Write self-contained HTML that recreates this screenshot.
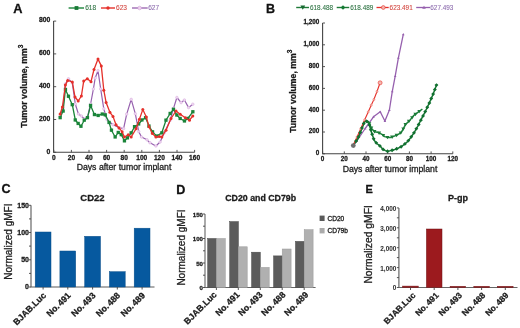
<!DOCTYPE html>
<html><head><meta charset="utf-8"><style>
html,body{margin:0;padding:0;background:#fff;}
svg{display:block;font-family:"Liberation Sans", sans-serif;filter:blur(0.35px);}
</style></head><body>
<svg width="520" height="328" viewBox="0 0 520 328">
<rect width="520" height="328" fill="#fff"/>
<text x="13.3" y="12.5" font-size="12.8" font-weight="bold" text-anchor="start" fill="#111" stroke="#111" stroke-width="0.28">A</text>
<text x="266.0" y="12.5" font-size="12.5" font-weight="bold" text-anchor="start" fill="#111" stroke="#111" stroke-width="0.28">B</text>
<text x="1.4" y="192.9" font-size="12.6" font-weight="bold" text-anchor="start" fill="#111" stroke="#111" stroke-width="0.28">C</text>
<text x="176.2" y="194.0" font-size="12.6" font-weight="bold" text-anchor="start" fill="#111" stroke="#111" stroke-width="0.28">D</text>
<text x="365.6" y="193.0" font-size="11" font-weight="bold" text-anchor="start" fill="#111" stroke="#111" stroke-width="0.28">E</text>
<path d="M53.6,21.1V152.3H194.6" fill="none" stroke="#444" stroke-width="1.1"/>
<path d="M53.6,152.3h2.6" stroke="#444" stroke-width="0.9"/>
<text x="50.4" y="153.6" font-size="6.8" font-weight="bold" text-anchor="end" fill="#1a1a1a" stroke="#1a1a1a" stroke-width="0.28">0</text>
<path d="M53.6,119.5h2.6" stroke="#444" stroke-width="0.9"/>
<text x="50.4" y="120.8" font-size="6.8" font-weight="bold" text-anchor="end" fill="#1a1a1a" stroke="#1a1a1a" stroke-width="0.28">200</text>
<path d="M53.6,86.7h2.6" stroke="#444" stroke-width="0.9"/>
<text x="50.4" y="88.0" font-size="6.8" font-weight="bold" text-anchor="end" fill="#1a1a1a" stroke="#1a1a1a" stroke-width="0.28">400</text>
<path d="M53.6,53.9h2.6" stroke="#444" stroke-width="0.9"/>
<text x="50.4" y="55.2" font-size="6.8" font-weight="bold" text-anchor="end" fill="#1a1a1a" stroke="#1a1a1a" stroke-width="0.28">600</text>
<path d="M53.6,21.1h2.6" stroke="#444" stroke-width="0.9"/>
<text x="50.4" y="22.4" font-size="6.8" font-weight="bold" text-anchor="end" fill="#1a1a1a" stroke="#1a1a1a" stroke-width="0.28">800</text>
<path d="M53.8,152.3v-2.4" stroke="#444" stroke-width="0.9"/>
<text x="53.8" y="159.8" font-size="6.6" font-weight="bold" text-anchor="middle" fill="#1a1a1a" stroke="#1a1a1a" stroke-width="0.28">0</text>
<path d="M71.4,152.3v-2.4" stroke="#444" stroke-width="0.9"/>
<text x="71.4" y="159.8" font-size="6.6" font-weight="bold" text-anchor="middle" fill="#1a1a1a" stroke="#1a1a1a" stroke-width="0.28">20</text>
<path d="M89.0,152.3v-2.4" stroke="#444" stroke-width="0.9"/>
<text x="89.0" y="159.8" font-size="6.6" font-weight="bold" text-anchor="middle" fill="#1a1a1a" stroke="#1a1a1a" stroke-width="0.28">40</text>
<path d="M106.6,152.3v-2.4" stroke="#444" stroke-width="0.9"/>
<text x="106.6" y="159.8" font-size="6.6" font-weight="bold" text-anchor="middle" fill="#1a1a1a" stroke="#1a1a1a" stroke-width="0.28">60</text>
<path d="M124.2,152.3v-2.4" stroke="#444" stroke-width="0.9"/>
<text x="124.2" y="159.8" font-size="6.6" font-weight="bold" text-anchor="middle" fill="#1a1a1a" stroke="#1a1a1a" stroke-width="0.28">80</text>
<path d="M141.8,152.3v-2.4" stroke="#444" stroke-width="0.9"/>
<text x="141.8" y="159.8" font-size="6.6" font-weight="bold" text-anchor="middle" fill="#1a1a1a" stroke="#1a1a1a" stroke-width="0.28">100</text>
<path d="M159.4,152.3v-2.4" stroke="#444" stroke-width="0.9"/>
<text x="159.4" y="159.8" font-size="6.6" font-weight="bold" text-anchor="middle" fill="#1a1a1a" stroke="#1a1a1a" stroke-width="0.28">120</text>
<path d="M177.0,152.3v-2.4" stroke="#444" stroke-width="0.9"/>
<text x="177.0" y="159.8" font-size="6.6" font-weight="bold" text-anchor="middle" fill="#1a1a1a" stroke="#1a1a1a" stroke-width="0.28">140</text>
<path d="M194.6,152.3v-2.4" stroke="#444" stroke-width="0.9"/>
<text x="194.6" y="159.8" font-size="6.6" font-weight="bold" text-anchor="middle" fill="#1a1a1a" stroke="#1a1a1a" stroke-width="0.28">160</text>
<text x="124.0" y="170.2" font-size="8.7" font-weight="normal" text-anchor="middle" fill="#222" stroke="#222" stroke-width="0.3">Days after tumor implant</text>
<text transform="translate(26.5,127.7) rotate(-90)" font-size="8.7" font-weight="bold" fill="#1a1a1a" stroke="#1a1a1a" stroke-width="0.28">Tumor volume, mm<tspan font-size="6.6" dy="-3.5">3</tspan></text>
<polyline points="60.1,116.0 63.0,108.0 65.4,84.0 68.5,78.8 72.3,83.0 75.3,104.0 78.4,114.0 81.4,116.0 84.5,119.0 87.5,117.0 90.6,104.0 93.4,89.0 95.2,78.0 98.0,70.7 100.7,89.0 103.8,108.8 106.9,119.5 113.0,124.8 119.8,127.9 123.6,128.6 126.7,114.1 131.2,99.4 135.3,113.7 138.7,131.5 141.5,137.0 147.0,139.8 150.0,142.8 155.9,146.0 160.1,142.0 164.3,132.8 170.2,120.2 173.5,108.4 176.9,97.5 181.1,102.6 184.4,100.0 188.6,107.6 192.8,104.2" fill="none" stroke="#9660ae" stroke-width="1.2" stroke-linejoin="round"/>
<circle cx="60.1" cy="116.0" r="1.3" fill="#efd8f0" stroke="#d4a8dc" stroke-width="0.5"/>
<circle cx="63.0" cy="108.0" r="1.3" fill="#efd8f0" stroke="#d4a8dc" stroke-width="0.5"/>
<circle cx="65.4" cy="84.0" r="1.3" fill="#efd8f0" stroke="#d4a8dc" stroke-width="0.5"/>
<circle cx="68.5" cy="78.8" r="1.3" fill="#efd8f0" stroke="#d4a8dc" stroke-width="0.5"/>
<circle cx="72.3" cy="83.0" r="1.3" fill="#efd8f0" stroke="#d4a8dc" stroke-width="0.5"/>
<circle cx="75.3" cy="104.0" r="1.3" fill="#efd8f0" stroke="#d4a8dc" stroke-width="0.5"/>
<circle cx="78.4" cy="114.0" r="1.3" fill="#efd8f0" stroke="#d4a8dc" stroke-width="0.5"/>
<circle cx="81.4" cy="116.0" r="1.3" fill="#efd8f0" stroke="#d4a8dc" stroke-width="0.5"/>
<circle cx="84.5" cy="119.0" r="1.3" fill="#efd8f0" stroke="#d4a8dc" stroke-width="0.5"/>
<circle cx="87.5" cy="117.0" r="1.3" fill="#efd8f0" stroke="#d4a8dc" stroke-width="0.5"/>
<circle cx="90.6" cy="104.0" r="1.3" fill="#efd8f0" stroke="#d4a8dc" stroke-width="0.5"/>
<circle cx="93.4" cy="89.0" r="1.3" fill="#efd8f0" stroke="#d4a8dc" stroke-width="0.5"/>
<circle cx="95.2" cy="78.0" r="1.3" fill="#efd8f0" stroke="#d4a8dc" stroke-width="0.5"/>
<circle cx="98.0" cy="70.7" r="1.3" fill="#efd8f0" stroke="#d4a8dc" stroke-width="0.5"/>
<circle cx="100.7" cy="89.0" r="1.3" fill="#efd8f0" stroke="#d4a8dc" stroke-width="0.5"/>
<circle cx="103.8" cy="108.8" r="1.3" fill="#efd8f0" stroke="#d4a8dc" stroke-width="0.5"/>
<circle cx="106.9" cy="119.5" r="1.3" fill="#efd8f0" stroke="#d4a8dc" stroke-width="0.5"/>
<circle cx="113.0" cy="124.8" r="1.3" fill="#efd8f0" stroke="#d4a8dc" stroke-width="0.5"/>
<circle cx="119.8" cy="127.9" r="1.3" fill="#efd8f0" stroke="#d4a8dc" stroke-width="0.5"/>
<circle cx="123.6" cy="128.6" r="1.3" fill="#efd8f0" stroke="#d4a8dc" stroke-width="0.5"/>
<circle cx="126.7" cy="114.1" r="1.3" fill="#efd8f0" stroke="#d4a8dc" stroke-width="0.5"/>
<circle cx="131.2" cy="99.4" r="1.3" fill="#efd8f0" stroke="#d4a8dc" stroke-width="0.5"/>
<circle cx="135.3" cy="113.7" r="1.3" fill="#efd8f0" stroke="#d4a8dc" stroke-width="0.5"/>
<circle cx="138.7" cy="131.5" r="1.3" fill="#efd8f0" stroke="#d4a8dc" stroke-width="0.5"/>
<circle cx="141.5" cy="137.0" r="1.3" fill="#efd8f0" stroke="#d4a8dc" stroke-width="0.5"/>
<circle cx="147.0" cy="139.8" r="1.3" fill="#efd8f0" stroke="#d4a8dc" stroke-width="0.5"/>
<circle cx="150.0" cy="142.8" r="1.3" fill="#efd8f0" stroke="#d4a8dc" stroke-width="0.5"/>
<circle cx="155.9" cy="146.0" r="1.3" fill="#efd8f0" stroke="#d4a8dc" stroke-width="0.5"/>
<circle cx="160.1" cy="142.0" r="1.3" fill="#efd8f0" stroke="#d4a8dc" stroke-width="0.5"/>
<circle cx="164.3" cy="132.8" r="1.3" fill="#efd8f0" stroke="#d4a8dc" stroke-width="0.5"/>
<circle cx="170.2" cy="120.2" r="1.3" fill="#efd8f0" stroke="#d4a8dc" stroke-width="0.5"/>
<circle cx="173.5" cy="108.4" r="1.3" fill="#efd8f0" stroke="#d4a8dc" stroke-width="0.5"/>
<circle cx="176.9" cy="97.5" r="1.3" fill="#efd8f0" stroke="#d4a8dc" stroke-width="0.5"/>
<circle cx="181.1" cy="102.6" r="1.3" fill="#efd8f0" stroke="#d4a8dc" stroke-width="0.5"/>
<circle cx="184.4" cy="100.0" r="1.3" fill="#efd8f0" stroke="#d4a8dc" stroke-width="0.5"/>
<circle cx="188.6" cy="107.6" r="1.3" fill="#efd8f0" stroke="#d4a8dc" stroke-width="0.5"/>
<circle cx="192.8" cy="104.2" r="1.3" fill="#efd8f0" stroke="#d4a8dc" stroke-width="0.5"/>
<polyline points="60.1,117.7 63.1,111.1 65.4,89.5 68.5,96.3 72.3,104.7 75.3,120.0 78.2,123.5 81.0,126.3 84.3,120.2 87.5,117.7 90.6,105.5 94.4,114.6 98.2,115.4 102.3,114.1 105.3,114.9 109.1,122.5 111.4,130.2 115.2,137.0 118.3,132.4 121.3,134.7 124.4,140.8 127.4,137.8 131.2,132.9 134.6,126.7 138.7,124.0 142.0,120.0 145.6,117.8 149.0,126.1 152.6,131.9 156.7,136.1 161.8,132.8 166.0,120.2 170.2,113.5 173.5,109.3 176.9,115.1 180.2,118.5 184.4,121.0 187.8,118.5 192.8,111.8" fill="none" stroke="#1a8439" stroke-width="1.3" stroke-linejoin="round"/>
<rect x="58.5" y="116.0" width="3.3" height="3.3" fill="#1a8439"/>
<rect x="61.5" y="109.4" width="3.3" height="3.3" fill="#1a8439"/>
<rect x="63.8" y="87.8" width="3.3" height="3.3" fill="#1a8439"/>
<rect x="66.8" y="94.6" width="3.3" height="3.3" fill="#1a8439"/>
<rect x="70.6" y="103.0" width="3.3" height="3.3" fill="#1a8439"/>
<rect x="73.6" y="118.3" width="3.3" height="3.3" fill="#1a8439"/>
<rect x="76.5" y="121.8" width="3.3" height="3.3" fill="#1a8439"/>
<rect x="79.3" y="124.6" width="3.3" height="3.3" fill="#1a8439"/>
<rect x="82.6" y="118.5" width="3.3" height="3.3" fill="#1a8439"/>
<rect x="85.8" y="116.0" width="3.3" height="3.3" fill="#1a8439"/>
<rect x="88.9" y="103.8" width="3.3" height="3.3" fill="#1a8439"/>
<rect x="92.8" y="112.9" width="3.3" height="3.3" fill="#1a8439"/>
<rect x="96.5" y="113.8" width="3.3" height="3.3" fill="#1a8439"/>
<rect x="100.6" y="112.4" width="3.3" height="3.3" fill="#1a8439"/>
<rect x="103.6" y="113.2" width="3.3" height="3.3" fill="#1a8439"/>
<rect x="107.4" y="120.8" width="3.3" height="3.3" fill="#1a8439"/>
<rect x="109.8" y="128.5" width="3.3" height="3.3" fill="#1a8439"/>
<rect x="113.5" y="135.3" width="3.3" height="3.3" fill="#1a8439"/>
<rect x="116.6" y="130.8" width="3.3" height="3.3" fill="#1a8439"/>
<rect x="119.6" y="133.0" width="3.3" height="3.3" fill="#1a8439"/>
<rect x="122.8" y="139.2" width="3.3" height="3.3" fill="#1a8439"/>
<rect x="125.8" y="136.2" width="3.3" height="3.3" fill="#1a8439"/>
<rect x="129.5" y="131.2" width="3.3" height="3.3" fill="#1a8439"/>
<rect x="132.9" y="125.0" width="3.3" height="3.3" fill="#1a8439"/>
<rect x="137.0" y="122.3" width="3.3" height="3.3" fill="#1a8439"/>
<rect x="140.3" y="118.3" width="3.3" height="3.3" fill="#1a8439"/>
<rect x="143.9" y="116.1" width="3.3" height="3.3" fill="#1a8439"/>
<rect x="147.3" y="124.4" width="3.3" height="3.3" fill="#1a8439"/>
<rect x="150.9" y="130.2" width="3.3" height="3.3" fill="#1a8439"/>
<rect x="155.0" y="134.4" width="3.3" height="3.3" fill="#1a8439"/>
<rect x="160.2" y="131.2" width="3.3" height="3.3" fill="#1a8439"/>
<rect x="164.3" y="118.5" width="3.3" height="3.3" fill="#1a8439"/>
<rect x="168.5" y="111.8" width="3.3" height="3.3" fill="#1a8439"/>
<rect x="171.8" y="107.6" width="3.3" height="3.3" fill="#1a8439"/>
<rect x="175.2" y="113.4" width="3.3" height="3.3" fill="#1a8439"/>
<rect x="178.5" y="116.8" width="3.3" height="3.3" fill="#1a8439"/>
<rect x="182.8" y="119.3" width="3.3" height="3.3" fill="#1a8439"/>
<rect x="186.2" y="116.8" width="3.3" height="3.3" fill="#1a8439"/>
<rect x="191.2" y="110.1" width="3.3" height="3.3" fill="#1a8439"/>
<polyline points="60.1,113.9 62.4,107.0 65.4,85.1 67.7,80.5 72.3,81.9 75.0,97.0 78.2,101.0 81.4,96.0 83.7,81.1 87.3,78.7 91.0,81.7 94.0,69.5 98.0,59.1 101.3,65.9 103.8,90.2 106.1,102.4 109.9,112.3 113.0,116.4 116.0,124.8 119.0,127.9 122.1,131.7 124.4,137.0 128.2,134.7 131.2,137.0 136.0,128.8 139.4,119.2 142.8,109.6 146.3,117.1 149.0,126.7 152.4,133.6 155.9,137.0 159.3,136.4 161.8,137.0 166.0,130.2 171.0,118.5 176.0,111.0 180.2,114.3 185.3,117.7 189.5,120.2 192.8,116.0" fill="none" stroke="#e5302a" stroke-width="1.3" stroke-linejoin="round"/>
<circle cx="60.1" cy="113.9" r="1.5" fill="#e5302a"/>
<circle cx="62.4" cy="107.0" r="1.5" fill="#e5302a"/>
<circle cx="65.4" cy="85.1" r="1.5" fill="#e5302a"/>
<circle cx="67.7" cy="80.5" r="1.5" fill="#e5302a"/>
<circle cx="72.3" cy="81.9" r="1.5" fill="#e5302a"/>
<circle cx="75.0" cy="97.0" r="1.5" fill="#e5302a"/>
<circle cx="78.2" cy="101.0" r="1.5" fill="#e5302a"/>
<circle cx="81.4" cy="96.0" r="1.5" fill="#e5302a"/>
<circle cx="83.7" cy="81.1" r="1.5" fill="#e5302a"/>
<circle cx="87.3" cy="78.7" r="1.5" fill="#e5302a"/>
<circle cx="91.0" cy="81.7" r="1.5" fill="#e5302a"/>
<circle cx="94.0" cy="69.5" r="1.5" fill="#e5302a"/>
<circle cx="98.0" cy="59.1" r="1.5" fill="#e5302a"/>
<circle cx="101.3" cy="65.9" r="1.5" fill="#e5302a"/>
<circle cx="103.8" cy="90.2" r="1.5" fill="#e5302a"/>
<circle cx="106.1" cy="102.4" r="1.5" fill="#e5302a"/>
<circle cx="109.9" cy="112.3" r="1.5" fill="#e5302a"/>
<circle cx="113.0" cy="116.4" r="1.5" fill="#e5302a"/>
<circle cx="116.0" cy="124.8" r="1.5" fill="#e5302a"/>
<circle cx="119.0" cy="127.9" r="1.5" fill="#e5302a"/>
<circle cx="122.1" cy="131.7" r="1.5" fill="#e5302a"/>
<circle cx="124.4" cy="137.0" r="1.5" fill="#e5302a"/>
<circle cx="128.2" cy="134.7" r="1.5" fill="#e5302a"/>
<circle cx="131.2" cy="137.0" r="1.5" fill="#e5302a"/>
<circle cx="136.0" cy="128.8" r="1.5" fill="#e5302a"/>
<circle cx="139.4" cy="119.2" r="1.5" fill="#e5302a"/>
<circle cx="142.8" cy="109.6" r="1.5" fill="#e5302a"/>
<circle cx="146.3" cy="117.1" r="1.5" fill="#e5302a"/>
<circle cx="149.0" cy="126.7" r="1.5" fill="#e5302a"/>
<circle cx="152.4" cy="133.6" r="1.5" fill="#e5302a"/>
<circle cx="155.9" cy="137.0" r="1.5" fill="#e5302a"/>
<circle cx="159.3" cy="136.4" r="1.5" fill="#e5302a"/>
<circle cx="161.8" cy="137.0" r="1.5" fill="#e5302a"/>
<circle cx="166.0" cy="130.2" r="1.5" fill="#e5302a"/>
<circle cx="171.0" cy="118.5" r="1.5" fill="#e5302a"/>
<circle cx="176.0" cy="111.0" r="1.5" fill="#e5302a"/>
<circle cx="180.2" cy="114.3" r="1.5" fill="#e5302a"/>
<circle cx="185.3" cy="117.7" r="1.5" fill="#e5302a"/>
<circle cx="189.5" cy="120.2" r="1.5" fill="#e5302a"/>
<circle cx="192.8" cy="116.0" r="1.5" fill="#e5302a"/>
<path d="M68.6,8H84" stroke="#1a8439" stroke-width="1.4"/>
<rect x="74.6" y="6.1" width="3.8" height="3.8" fill="#187a36"/>
<text x="85.2" y="10.2" font-size="6.6" font-weight="normal" text-anchor="start" fill="#2f7444" stroke="#2f7444" stroke-width="0.1">618</text>
<path d="M101,8H115" stroke="#e5302a" stroke-width="1.4"/>
<circle cx="108.0" cy="8.0" r="1.7" fill="#e5302a"/>
<text x="116.0" y="10.2" font-size="6.6" font-weight="normal" text-anchor="start" fill="#d44a44" stroke="#d44a44" stroke-width="0.1">623</text>
<path d="M132,8H147.7" stroke="#9660ae" stroke-width="1.3"/>
<circle cx="139.6" cy="8.0" r="1.8" fill="#efd2ee" stroke="#cfa0d6" stroke-width="0.6"/>
<text x="148.2" y="10.2" font-size="6.6" font-weight="normal" text-anchor="start" fill="#9070b0" stroke="#9070b0" stroke-width="0.1">627</text>
<path d="M322.6,23.0V153.8H452.8" fill="none" stroke="#444" stroke-width="1.1"/>
<path d="M322.6,153.8h2.4" stroke="#444" stroke-width="0.9"/>
<text x="319.3" y="155.2" font-size="6.3" font-weight="bold" text-anchor="end" fill="#1a1a1a" stroke="#1a1a1a" stroke-width="0.28">0</text>
<path d="M322.6,132.0h2.4" stroke="#444" stroke-width="0.9"/>
<text x="319.3" y="133.4" font-size="6.3" font-weight="bold" text-anchor="end" fill="#1a1a1a" stroke="#1a1a1a" stroke-width="0.28">200</text>
<path d="M322.6,110.2h2.4" stroke="#444" stroke-width="0.9"/>
<text x="319.3" y="111.6" font-size="6.3" font-weight="bold" text-anchor="end" fill="#1a1a1a" stroke="#1a1a1a" stroke-width="0.28">400</text>
<path d="M322.6,88.4h2.4" stroke="#444" stroke-width="0.9"/>
<text x="319.3" y="89.8" font-size="6.3" font-weight="bold" text-anchor="end" fill="#1a1a1a" stroke="#1a1a1a" stroke-width="0.28">600</text>
<path d="M322.6,66.6h2.4" stroke="#444" stroke-width="0.9"/>
<text x="319.3" y="68.0" font-size="6.3" font-weight="bold" text-anchor="end" fill="#1a1a1a" stroke="#1a1a1a" stroke-width="0.28">800</text>
<path d="M322.6,44.8h2.4" stroke="#444" stroke-width="0.9"/>
<text x="319.3" y="46.2" font-size="6.3" font-weight="bold" text-anchor="end" fill="#1a1a1a" stroke="#1a1a1a" stroke-width="0.28">1,000</text>
<path d="M322.6,23.0h2.4" stroke="#444" stroke-width="0.9"/>
<text x="319.3" y="24.4" font-size="6.3" font-weight="bold" text-anchor="end" fill="#1a1a1a" stroke="#1a1a1a" stroke-width="0.28">1,200</text>
<path d="M322.6,153.8v-2.4" stroke="#444" stroke-width="0.9"/>
<text x="322.6" y="160.5" font-size="6.3" font-weight="bold" text-anchor="middle" fill="#1a1a1a" stroke="#1a1a1a" stroke-width="0.28">0</text>
<path d="M344.3,153.8v-2.4" stroke="#444" stroke-width="0.9"/>
<text x="344.3" y="160.5" font-size="6.3" font-weight="bold" text-anchor="middle" fill="#1a1a1a" stroke="#1a1a1a" stroke-width="0.28">20</text>
<path d="M366.0,153.8v-2.4" stroke="#444" stroke-width="0.9"/>
<text x="366.0" y="160.5" font-size="6.3" font-weight="bold" text-anchor="middle" fill="#1a1a1a" stroke="#1a1a1a" stroke-width="0.28">40</text>
<path d="M387.7,153.8v-2.4" stroke="#444" stroke-width="0.9"/>
<text x="387.7" y="160.5" font-size="6.3" font-weight="bold" text-anchor="middle" fill="#1a1a1a" stroke="#1a1a1a" stroke-width="0.28">60</text>
<path d="M409.4,153.8v-2.4" stroke="#444" stroke-width="0.9"/>
<text x="409.4" y="160.5" font-size="6.3" font-weight="bold" text-anchor="middle" fill="#1a1a1a" stroke="#1a1a1a" stroke-width="0.28">80</text>
<path d="M431.1,153.8v-2.4" stroke="#444" stroke-width="0.9"/>
<text x="431.1" y="160.5" font-size="6.3" font-weight="bold" text-anchor="middle" fill="#1a1a1a" stroke="#1a1a1a" stroke-width="0.28">100</text>
<path d="M452.8,153.8v-2.4" stroke="#444" stroke-width="0.9"/>
<text x="452.8" y="160.5" font-size="6.3" font-weight="bold" text-anchor="middle" fill="#1a1a1a" stroke="#1a1a1a" stroke-width="0.28">120</text>
<text x="390.0" y="172.2" font-size="8.7" font-weight="normal" text-anchor="middle" fill="#222" stroke="#222" stroke-width="0.3">Days after tumor implant</text>
<text transform="translate(295.6,132.8) rotate(-90)" font-size="8.7" font-weight="bold" fill="#1a1a1a" stroke="#1a1a1a" stroke-width="0.28">Tumor volume, mm<tspan font-size="6.6" dy="-3.5">3</tspan></text>
<polyline points="353.1,145.2 356.8,141.0 365.2,128.5 373.5,116.8 380.2,111.7 384.9,121.0 389.4,110.0 392.3,91.3 395.2,76.2 398.4,57.9 403.3,34.3" fill="none" stroke="#9660ae" stroke-width="1.3" stroke-linejoin="round"/>
<path d="M355.5,141.9L358.1,141.9L356.8,139.7Z" fill="#9660ae"/>
<path d="M363.9,129.4L366.5,129.4L365.2,127.2Z" fill="#9660ae"/>
<path d="M372.2,117.7L374.8,117.7L373.5,115.5Z" fill="#9660ae"/>
<path d="M378.9,112.6L381.5,112.6L380.2,110.4Z" fill="#9660ae"/>
<path d="M383.6,121.9L386.2,121.9L384.9,119.7Z" fill="#9660ae"/>
<path d="M388.1,110.9L390.7,110.9L389.4,108.7Z" fill="#9660ae"/>
<path d="M391.0,92.2L393.6,92.2L392.3,90.0Z" fill="#9660ae"/>
<path d="M393.9,77.1L396.5,77.1L395.2,74.9Z" fill="#9660ae"/>
<path d="M397.1,58.8L399.7,58.8L398.4,56.6Z" fill="#9660ae"/>
<path d="M402.0,35.2L404.6,35.2L403.3,33.0Z" fill="#9660ae"/>
<polyline points="353.3,145.0 357.6,139.0 361.0,130.5 364.3,122.3 366.0,120.6 368.5,121.8 371.5,128.5 374.7,131.7 378.5,132.6 382.0,134.3 384.6,136.6 387.6,137.4 390.8,137.4 393.8,136.4 397.4,134.8 400.8,132.8 403.0,129.5 405.6,124.2 409.6,120.6 413.9,115.3 418.2,112.1 422.4,109.0" fill="none" stroke="#1b833b" stroke-width="1.5" stroke-linejoin="round"/>
<polyline points="353.3,145.0 357.6,139.0 361.0,130.5 364.3,122.3 366.0,120.6 369.0,123.5 371.7,133.0 374.3,140.6 376.8,143.5 380.3,146.2 382.8,149.2 385.4,150.6 388.0,151.4 391.4,150.4 394.8,149.5 398.2,148.2 401.6,146.5 405.0,143.8 407.6,141.6 410.6,137.8 414.3,132.3 417.9,126.0 421.6,118.7 425.4,111.3 429.4,102.8 433.0,94.5 436.8,84.3" fill="none" stroke="#157532" stroke-width="1.5" stroke-linejoin="round"/>
<polyline points="353.3,145.0 357.0,137.0 360.8,128.6 364.7,119.8 368.2,112.0 371.2,105.2 373.9,99.5 377.0,91.5 380.1,82.8" fill="none" stroke="#e5302a" stroke-width="1.1" stroke-linejoin="round"/>
<circle cx="357.0" cy="137.0" r="1.1" fill="#f3a8a0" stroke="#e86a60" stroke-width="0.4"/>
<circle cx="360.8" cy="128.6" r="1.1" fill="#f3a8a0" stroke="#e86a60" stroke-width="0.4"/>
<circle cx="364.7" cy="119.8" r="1.1" fill="#f3a8a0" stroke="#e86a60" stroke-width="0.4"/>
<circle cx="368.2" cy="112.0" r="1.1" fill="#f3a8a0" stroke="#e86a60" stroke-width="0.4"/>
<circle cx="371.2" cy="105.2" r="1.1" fill="#f3a8a0" stroke="#e86a60" stroke-width="0.4"/>
<circle cx="373.9" cy="99.5" r="1.1" fill="#f3a8a0" stroke="#e86a60" stroke-width="0.4"/>
<circle cx="377.0" cy="91.5" r="1.1" fill="#f3a8a0" stroke="#e86a60" stroke-width="0.4"/>
<circle cx="380.1" cy="82.8" r="2.0" fill="#f4b8b0" stroke="#e5302a" stroke-width="0.6"/>
<path d="M367.3,122.2L371.3,122.2L369.3,125.6Z" fill="#1a7a36"/>
<path d="M369.3,126.6L373.3,126.6L371.3,130.0Z" fill="#1a7a36"/>
<path d="M372.5,130.1L376.5,130.1L374.5,133.5Z" fill="#1a7a36"/>
<path d="M377.1,131.5L381.1,131.5L379.1,134.9Z" fill="#1a7a36"/>
<path d="M381.2,133.9L385.2,133.9L383.2,137.3Z" fill="#1a7a36"/>
<path d="M385.4,135.9L389.4,135.9L387.4,139.3Z" fill="#1a7a36"/>
<path d="M390.1,135.6L394.1,135.6L392.1,139.0Z" fill="#1a7a36"/>
<path d="M394.6,133.8L398.6,133.8L396.6,137.2Z" fill="#1a7a36"/>
<path d="M398.7,131.4L402.7,131.4L400.7,134.8Z" fill="#1a7a36"/>
<path d="M401.3,127.4L405.3,127.4L403.3,130.8Z" fill="#1a7a36"/>
<path d="M403.5,123.1L407.5,123.1L405.5,126.5Z" fill="#1a7a36"/>
<path d="M406.9,119.8L410.9,119.8L408.9,123.2Z" fill="#1a7a36"/>
<path d="M410.1,116.2L414.1,116.2L412.1,119.6Z" fill="#1a7a36"/>
<path d="M413.4,112.8L417.4,112.8L415.4,116.2Z" fill="#1a7a36"/>
<path d="M417.3,109.9L421.3,109.9L419.3,113.3Z" fill="#1a7a36"/>
<path d="M356.1,139.1L358.0,141.1L356.1,143.0L354.1,141.1Z" fill="#117030"/>
<path d="M358.4,135.0L360.4,136.9L358.4,138.9L356.5,136.9Z" fill="#117030"/>
<path d="M360.2,130.5L362.2,132.5L360.2,134.4L358.3,132.5Z" fill="#117030"/>
<path d="M362.0,126.1L363.9,128.0L362.0,130.0L360.0,128.0Z" fill="#117030"/>
<path d="M363.8,121.6L365.7,123.6L363.8,125.5L361.8,123.6Z" fill="#117030"/>
<path d="M366.7,119.4L368.7,121.3L366.7,123.3L364.8,121.3Z" fill="#117030"/>
<path d="M369.5,123.1L371.4,125.1L369.5,127.0L367.5,125.1Z" fill="#117030"/>
<path d="M370.8,127.8L372.7,129.7L370.8,131.7L368.8,129.7Z" fill="#117030"/>
<path d="M372.1,132.3L374.1,134.3L372.1,136.2L370.2,134.3Z" fill="#117030"/>
<path d="M373.7,136.9L375.6,138.8L373.7,140.8L371.7,138.8Z" fill="#117030"/>
<path d="M376.2,140.9L378.2,142.8L376.2,144.8L374.3,142.8Z" fill="#117030"/>
<path d="M379.9,143.9L381.8,145.9L379.9,147.8L377.9,145.9Z" fill="#117030"/>
<path d="M383.1,147.4L385.1,149.4L383.1,151.3L381.2,149.4Z" fill="#117030"/>
<path d="M387.5,149.3L389.5,151.3L387.5,153.2L385.6,151.3Z" fill="#117030"/>
<path d="M392.1,148.3L394.1,150.2L392.1,152.2L390.2,150.2Z" fill="#117030"/>
<path d="M396.7,146.8L398.7,148.8L396.7,150.7L394.8,148.8Z" fill="#117030"/>
<path d="M401.1,144.8L403.0,146.8L401.1,148.7L399.1,146.8Z" fill="#117030"/>
<path d="M404.9,141.9L406.8,143.9L404.9,145.8L402.9,143.9Z" fill="#117030"/>
<path d="M408.4,138.7L410.3,140.6L408.4,142.6L406.4,140.6Z" fill="#117030"/>
<path d="M411.3,134.8L413.2,136.8L411.3,138.7L409.3,136.8Z" fill="#117030"/>
<path d="M414.0,130.9L415.9,132.8L414.0,134.8L412.0,132.8Z" fill="#117030"/>
<path d="M416.4,126.7L418.3,128.7L416.4,130.6L414.4,128.7Z" fill="#117030"/>
<path d="M418.7,122.5L420.6,124.5L418.7,126.4L416.7,124.5Z" fill="#117030"/>
<path d="M420.9,118.2L422.8,120.2L420.9,122.1L418.9,120.2Z" fill="#117030"/>
<path d="M423.0,113.9L425.0,115.9L423.0,117.8L421.1,115.9Z" fill="#117030"/>
<path d="M425.2,109.7L427.2,111.6L425.2,113.6L423.3,111.6Z" fill="#117030"/>
<path d="M427.3,105.3L429.2,107.3L427.3,109.2L425.3,107.3Z" fill="#117030"/>
<path d="M429.3,101.0L431.3,102.9L429.3,104.9L427.4,102.9Z" fill="#117030"/>
<path d="M431.2,96.6L433.2,98.5L431.2,100.5L429.3,98.5Z" fill="#117030"/>
<path d="M433.1,92.2L435.1,94.1L433.1,96.1L431.2,94.1Z" fill="#117030"/>
<path d="M434.8,87.7L436.8,89.6L434.8,91.6L432.9,89.6Z" fill="#117030"/>
<path d="M436.5,83.2L438.4,85.1L436.5,87.1L434.5,85.1Z" fill="#117030"/>
<circle cx="353.3" cy="145.6" r="2.4" fill="#6f6f6f"/>
<path d="M296.2,7.5H309" stroke="#1f7a38" stroke-width="1.4"/>
<path d="M300.4,5.6L305.2,5.6L302.8,9.7Z" fill="#176a30"/>
<text x="310.0" y="9.7" font-size="6.4" font-weight="normal" text-anchor="start" fill="#2f7444" stroke="#2f7444" stroke-width="0.1">618.488</text>
<path d="M336.7,7.5H349.2" stroke="#1f7a38" stroke-width="1.4"/>
<path d="M343.0,5.2L345.3,7.5L343.0,9.8L340.7,7.5Z" fill="#137a33"/>
<text x="350.2" y="9.7" font-size="6.4" font-weight="normal" text-anchor="start" fill="#2f7444" stroke="#2f7444" stroke-width="0.1">618.489</text>
<path d="M376.5,7.5H388.7" stroke="#e5302a" stroke-width="1.3"/>
<circle cx="383.3" cy="7.5" r="1.9" fill="#f4b8b0" stroke="#e5302a" stroke-width="0.6"/>
<text x="389.6" y="9.7" font-size="6.4" font-weight="normal" text-anchor="start" fill="#d44a44" stroke="#d44a44" stroke-width="0.1">623.491</text>
<path d="M416.2,7.5H430" stroke="#9660ae" stroke-width="1.3"/>
<path d="M422.2,8.8L425.8,8.8L424.0,5.7Z" fill="#9660ae"/>
<text x="430.3" y="9.7" font-size="6.4" font-weight="normal" text-anchor="start" fill="#9070b0" stroke="#9070b0" stroke-width="0.1">627.493</text>
<path d="M31.0,205.3V287.0H154.5" fill="none" stroke="#5a5a5a" stroke-width="1.1"/>
<path d="M31.0,287.0h-2" stroke="#444" stroke-width="0.9"/>
<text x="29.0" y="289.4" font-size="7.0" font-weight="bold" text-anchor="end" fill="#1a1a1a" stroke="#1a1a1a" stroke-width="0.28">0</text>
<path d="M31.0,273.4h-2" stroke="#444" stroke-width="0.9"/>
<path d="M31.0,259.8h-2" stroke="#444" stroke-width="0.9"/>
<text x="29.0" y="262.2" font-size="7.0" font-weight="bold" text-anchor="end" fill="#1a1a1a" stroke="#1a1a1a" stroke-width="0.28">50</text>
<path d="M31.0,246.1h-2" stroke="#444" stroke-width="0.9"/>
<path d="M31.0,232.5h-2" stroke="#444" stroke-width="0.9"/>
<text x="29.0" y="234.9" font-size="7.0" font-weight="bold" text-anchor="end" fill="#1a1a1a" stroke="#1a1a1a" stroke-width="0.28">100</text>
<path d="M31.0,218.9h-2" stroke="#444" stroke-width="0.9"/>
<path d="M31.0,205.3h-2" stroke="#444" stroke-width="0.9"/>
<text x="29.0" y="207.7" font-size="7.0" font-weight="bold" text-anchor="end" fill="#1a1a1a" stroke="#1a1a1a" stroke-width="0.28">150</text>
<rect x="35.2" y="232.0" width="15.8" height="55.0" fill="#06599f" stroke="#0b4f8a" stroke-width="0.5"/>
<path d="M43.1,287.0v2.5" stroke="#444" stroke-width="0.9"/>
<text transform="translate(46.6,296.0) rotate(-45)" word-spacing="-1.2" font-size="8.8" font-weight="bold" text-anchor="end" fill="#1a1a1a" stroke="#1a1a1a" stroke-width="0.28">BJAB.Luc</text>
<rect x="59.9" y="251.0" width="15.8" height="36.0" fill="#06599f" stroke="#0b4f8a" stroke-width="0.5"/>
<path d="M67.8,287.0v2.5" stroke="#444" stroke-width="0.9"/>
<text transform="translate(71.3,296.0) rotate(-45)" word-spacing="-1.2" font-size="8.8" font-weight="bold" text-anchor="end" fill="#1a1a1a" stroke="#1a1a1a" stroke-width="0.28">No. 491</text>
<rect x="84.7" y="236.3" width="15.8" height="50.7" fill="#06599f" stroke="#0b4f8a" stroke-width="0.5"/>
<path d="M92.6,287.0v2.5" stroke="#444" stroke-width="0.9"/>
<text transform="translate(96.1,296.0) rotate(-45)" word-spacing="-1.2" font-size="8.8" font-weight="bold" text-anchor="end" fill="#1a1a1a" stroke="#1a1a1a" stroke-width="0.28">No. 493</text>
<rect x="109.4" y="271.7" width="15.8" height="15.3" fill="#06599f" stroke="#0b4f8a" stroke-width="0.5"/>
<path d="M117.3,287.0v2.5" stroke="#444" stroke-width="0.9"/>
<text transform="translate(120.8,296.0) rotate(-45)" word-spacing="-1.2" font-size="8.8" font-weight="bold" text-anchor="end" fill="#1a1a1a" stroke="#1a1a1a" stroke-width="0.28">No. 488</text>
<rect x="134.2" y="228.2" width="15.8" height="58.8" fill="#06599f" stroke="#0b4f8a" stroke-width="0.5"/>
<path d="M142.1,287.0v2.5" stroke="#444" stroke-width="0.9"/>
<text transform="translate(145.6,296.0) rotate(-45)" word-spacing="-1.2" font-size="8.8" font-weight="bold" text-anchor="end" fill="#1a1a1a" stroke="#1a1a1a" stroke-width="0.28">No. 489</text>
<text x="92.5" y="200.8" font-size="9.5" font-weight="bold" text-anchor="middle" fill="#1a1a1a" stroke="#1a1a1a" stroke-width="0.28">CD22</text>
<text transform="translate(11.5,279.7) rotate(-90)" font-size="10" fill="#222" stroke="#222" stroke-width="0.3">Normalized gMFI</text>
<path d="M205.0,214.0V287.5H315.6" fill="none" stroke="#666" stroke-width="1.1"/>
<path d="M205.0,287.5h-2" stroke="#444" stroke-width="0.9"/>
<text x="203.0" y="290.0" font-size="6.1" font-weight="bold" text-anchor="end" fill="#1a1a1a" stroke="#1a1a1a" stroke-width="0.28">0</text>
<path d="M205.0,275.2h-2" stroke="#444" stroke-width="0.9"/>
<path d="M205.0,263.0h-2" stroke="#444" stroke-width="0.9"/>
<text x="203.0" y="265.5" font-size="6.1" font-weight="bold" text-anchor="end" fill="#1a1a1a" stroke="#1a1a1a" stroke-width="0.28">50</text>
<path d="M205.0,250.8h-2" stroke="#444" stroke-width="0.9"/>
<path d="M205.0,238.5h-2" stroke="#444" stroke-width="0.9"/>
<text x="203.0" y="241.0" font-size="6.1" font-weight="bold" text-anchor="end" fill="#1a1a1a" stroke="#1a1a1a" stroke-width="0.28">100</text>
<path d="M205.0,226.2h-2" stroke="#444" stroke-width="0.9"/>
<path d="M205.0,214.0h-2" stroke="#444" stroke-width="0.9"/>
<text x="203.0" y="216.5" font-size="6.1" font-weight="bold" text-anchor="end" fill="#1a1a1a" stroke="#1a1a1a" stroke-width="0.28">150</text>
<rect x="207.7" y="238.5" width="8.7" height="49.0" fill="#5c5c5c" stroke="#444" stroke-width="0.5"/>
<rect x="216.4" y="238.5" width="8.9" height="49.0" fill="#b0b0b0" stroke="#999" stroke-width="0.5"/>
<path d="M216.4,287.5v2.5" stroke="#444" stroke-width="0.9"/>
<text transform="translate(217.2,295.3) rotate(-45)" word-spacing="-1.2" font-size="8.8" font-weight="bold" text-anchor="end" fill="#1a1a1a" stroke="#1a1a1a" stroke-width="0.28">BJAB.Luc</text>
<rect x="229.7" y="221.6" width="8.7" height="65.9" fill="#5c5c5c" stroke="#444" stroke-width="0.5"/>
<rect x="238.3" y="246.8" width="8.9" height="40.7" fill="#b0b0b0" stroke="#999" stroke-width="0.5"/>
<path d="M238.3,287.5v2.5" stroke="#444" stroke-width="0.9"/>
<text transform="translate(240.2,295.3) rotate(-45)" word-spacing="-1.2" font-size="8.8" font-weight="bold" text-anchor="end" fill="#1a1a1a" stroke="#1a1a1a" stroke-width="0.28">No. 491</text>
<rect x="251.6" y="252.2" width="8.7" height="35.3" fill="#5c5c5c" stroke="#444" stroke-width="0.5"/>
<rect x="260.3" y="267.4" width="8.9" height="20.1" fill="#b0b0b0" stroke="#999" stroke-width="0.5"/>
<path d="M260.3,287.5v2.5" stroke="#444" stroke-width="0.9"/>
<text transform="translate(263.1,295.3) rotate(-45)" word-spacing="-1.2" font-size="8.8" font-weight="bold" text-anchor="end" fill="#1a1a1a" stroke="#1a1a1a" stroke-width="0.28">No. 493</text>
<rect x="273.6" y="255.9" width="8.7" height="31.6" fill="#5c5c5c" stroke="#444" stroke-width="0.5"/>
<rect x="282.2" y="249.0" width="8.9" height="38.5" fill="#b0b0b0" stroke="#999" stroke-width="0.5"/>
<path d="M282.2,287.5v2.5" stroke="#444" stroke-width="0.9"/>
<text transform="translate(286.1,295.3) rotate(-45)" word-spacing="-1.2" font-size="8.8" font-weight="bold" text-anchor="end" fill="#1a1a1a" stroke="#1a1a1a" stroke-width="0.28">No. 488</text>
<rect x="295.5" y="241.4" width="8.7" height="46.1" fill="#5c5c5c" stroke="#444" stroke-width="0.5"/>
<rect x="304.2" y="229.7" width="8.9" height="57.8" fill="#b0b0b0" stroke="#999" stroke-width="0.5"/>
<path d="M304.2,287.5v2.5" stroke="#444" stroke-width="0.9"/>
<text transform="translate(309.0,295.3) rotate(-45)" word-spacing="-1.2" font-size="8.8" font-weight="bold" text-anchor="end" fill="#1a1a1a" stroke="#1a1a1a" stroke-width="0.28">No. 489</text>
<text x="260.7" y="200.9" font-size="8.8" font-weight="bold" text-anchor="middle" fill="#1a1a1a" stroke="#1a1a1a" stroke-width="0.28">CD20 and CD79b</text>
<text transform="translate(184.6,285.6) rotate(-90)" font-size="10" fill="#222" stroke="#222" stroke-width="0.3">Normalized gMFI</text>
<rect x="319.6" y="215.6" width="5" height="5.4" fill="#5a5a5a"/>
<text x="327.4" y="220.7" font-size="6.6" font-weight="normal" text-anchor="start" fill="#1a1a1a" stroke="#1a1a1a" stroke-width="0.3">CD20</text>
<rect x="319.6" y="228" width="5" height="5.4" fill="#ababab"/>
<text x="327.4" y="233.1" font-size="6.6" font-weight="normal" text-anchor="start" fill="#1a1a1a" stroke="#1a1a1a" stroke-width="0.3">CD79b</text>
<path d="M398.9,207.9V287.5H517.5" fill="none" stroke="#666" stroke-width="1.2"/>
<path d="M398.9,287.5h-2" stroke="#444" stroke-width="0.9"/>
<text x="396.3" y="290.4" font-size="6.4" font-weight="bold" text-anchor="end" fill="#333" stroke="#333" stroke-width="0.05">0</text>
<path d="M398.9,277.6h-2" stroke="#444" stroke-width="0.9"/>
<path d="M398.9,267.6h-2" stroke="#444" stroke-width="0.9"/>
<text x="396.3" y="270.5" font-size="6.4" font-weight="bold" text-anchor="end" fill="#333" stroke="#333" stroke-width="0.05">1,000</text>
<path d="M398.9,257.6h-2" stroke="#444" stroke-width="0.9"/>
<path d="M398.9,247.7h-2" stroke="#444" stroke-width="0.9"/>
<text x="396.3" y="250.6" font-size="6.4" font-weight="bold" text-anchor="end" fill="#333" stroke="#333" stroke-width="0.05">2,000</text>
<path d="M398.9,237.8h-2" stroke="#444" stroke-width="0.9"/>
<path d="M398.9,227.8h-2" stroke="#444" stroke-width="0.9"/>
<text x="396.3" y="230.7" font-size="6.4" font-weight="bold" text-anchor="end" fill="#333" stroke="#333" stroke-width="0.05">3,000</text>
<path d="M398.9,217.8h-2" stroke="#444" stroke-width="0.9"/>
<path d="M398.9,207.9h-2" stroke="#444" stroke-width="0.9"/>
<text x="396.3" y="210.8" font-size="6.4" font-weight="bold" text-anchor="end" fill="#333" stroke="#333" stroke-width="0.05">4,000</text>
<rect x="402.7" y="286.1" width="15.6" height="1.4" fill="#9c1a1e" stroke="#6e1214" stroke-width="0.5"/>
<path d="M410.5,287.5v2.5" stroke="#444" stroke-width="0.9"/>
<text transform="translate(416.0,296.0) rotate(-45)" word-spacing="-1.2" font-size="8.5" font-weight="bold" text-anchor="end" fill="#1a1a1a" stroke="#1a1a1a" stroke-width="0.28">BJAB.Luc</text>
<rect x="426.4" y="229.0" width="15.6" height="58.5" fill="#9c1a1e" stroke="#6e1214" stroke-width="0.5"/>
<path d="M434.2,287.5v2.5" stroke="#444" stroke-width="0.9"/>
<text transform="translate(439.3,296.0) rotate(-45)" word-spacing="-1.2" font-size="8.5" font-weight="bold" text-anchor="end" fill="#1a1a1a" stroke="#1a1a1a" stroke-width="0.28">No. 491</text>
<rect x="450.1" y="286.3" width="15.6" height="1.2" fill="#9c1a1e" stroke="#6e1214" stroke-width="0.5"/>
<path d="M457.9,287.5v2.5" stroke="#444" stroke-width="0.9"/>
<text transform="translate(462.6,296.0) rotate(-45)" word-spacing="-1.2" font-size="8.5" font-weight="bold" text-anchor="end" fill="#1a1a1a" stroke="#1a1a1a" stroke-width="0.28">No. 493</text>
<rect x="473.8" y="286.3" width="15.6" height="1.2" fill="#9c1a1e" stroke="#6e1214" stroke-width="0.5"/>
<path d="M481.6,287.5v2.5" stroke="#444" stroke-width="0.9"/>
<text transform="translate(485.9,296.0) rotate(-45)" word-spacing="-1.2" font-size="8.5" font-weight="bold" text-anchor="end" fill="#1a1a1a" stroke="#1a1a1a" stroke-width="0.28">No. 488</text>
<rect x="497.5" y="286.3" width="15.6" height="1.2" fill="#9c1a1e" stroke="#6e1214" stroke-width="0.5"/>
<path d="M505.3,287.5v2.5" stroke="#444" stroke-width="0.9"/>
<text transform="translate(509.2,296.0) rotate(-45)" word-spacing="-1.2" font-size="8.5" font-weight="bold" text-anchor="end" fill="#1a1a1a" stroke="#1a1a1a" stroke-width="0.28">No. 489</text>
<text x="458.0" y="200.8" font-size="9" font-weight="bold" text-anchor="middle" fill="#1a1a1a" stroke="#1a1a1a" stroke-width="0.28">P-gp</text>
<text transform="translate(372.3,283.6) rotate(-90)" font-size="10.3" fill="#222" stroke="#222" stroke-width="0.3">Normalized gMFI</text>
</svg>
</body></html>
